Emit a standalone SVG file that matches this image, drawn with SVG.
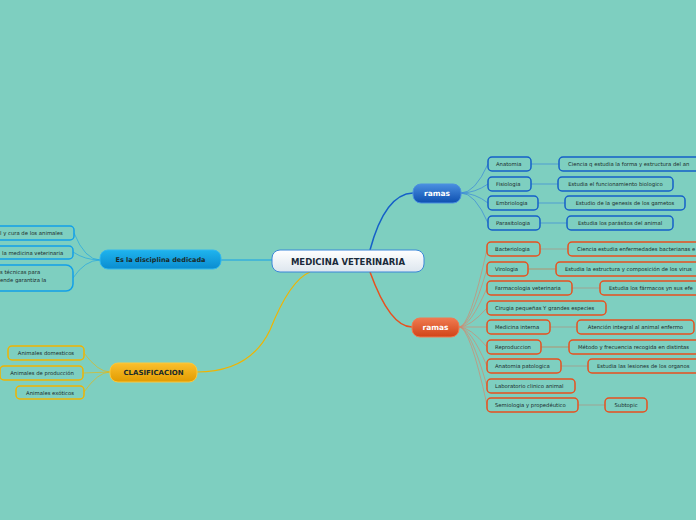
<svg xmlns="http://www.w3.org/2000/svg" width="696" height="520" viewBox="0 0 696 520">
<defs>
<linearGradient id="gb" x1="0" y1="0" x2="0" y2="1"><stop offset="0" stop-color="#4a8fe0"/><stop offset="1" stop-color="#0d4fb0"/></linearGradient>
<linearGradient id="go" x1="0" y1="0" x2="0" y2="1"><stop offset="0" stop-color="#f07a50"/><stop offset="1" stop-color="#d04418"/></linearGradient>
<linearGradient id="gc" x1="0" y1="0" x2="0" y2="1"><stop offset="0" stop-color="#1fb4ee"/><stop offset="1" stop-color="#0a8cd0"/></linearGradient>
<linearGradient id="gy" x1="0" y1="0" x2="0" y2="1"><stop offset="0" stop-color="#fbc02d"/><stop offset="1" stop-color="#e29b00"/></linearGradient>
<linearGradient id="gw" x1="0" y1="0" x2="0" y2="1"><stop offset="0" stop-color="#ffffff"/><stop offset="1" stop-color="#dde6ee"/></linearGradient>
</defs>
<style>
text{font-family:"DejaVu Sans","Liberation Sans",sans-serif;font-size:5.3px;fill:#1a2a2a}
.b rect{fill:#7ecfc0;stroke:#1560c8;stroke-width:1.5}
.o rect{fill:#7ecfc0;stroke:#e8501e;stroke-width:1.5}
.c rect{fill:#7ecfc0;stroke:#12a0e8;stroke-width:1.5}
.y rect{fill:#7ecfc0;stroke:#f0b400;stroke-width:1.5}
.m{font-weight:bold;font-size:7.5px}
#conn path{fill:none}
</style>
<rect width="696" height="520" fill="#7ecfc0"/>
<g id="conn">
<path d="M370 250 Q385 194 413 193" stroke="#1560c8" stroke-width="1.5"/>
<path d="M370 272 Q390 327 412 327" stroke="#e8501e" stroke-width="1.5"/>
<path d="M272 260 L221 260" stroke="#12a0e8" stroke-width="1"/>
<path d="M310 272 Q290 280 270 330 Q250 372 197 372" stroke="#f0b400" stroke-width="1.2"/>
<g stroke="#3a86d8" stroke-width="0.7">
<path d="M461 193 Q475 193 488 164"/><path d="M461 193 Q475 193 488 184"/><path d="M461 193 Q475 193 488 203"/><path d="M461 193 Q475 193 488 223"/>
<path d="M531 164 L559 164"/><path d="M531 184 L558 184"/><path d="M538 203 L565 203"/><path d="M540 223 L567 223"/>
</g>
<g stroke="#d08a70" stroke-width="0.7">
<path d="M459 327 Q470 327 487 249"/><path d="M459 327 Q470 327 487 269"/><path d="M459 327 Q470 327 487 288"/><path d="M459 327 Q470 327 487 308"/><path d="M459 327 L487 327"/><path d="M459 327 Q470 327 487 347"/><path d="M459 327 Q470 327 487 366"/><path d="M459 327 Q470 327 487 386"/><path d="M459 327 Q470 327 487 405"/>
</g>
<g stroke="#9aaa9a" stroke-width="1.2">
<path d="M540 249 L568 249"/><path d="M572 288 L600 288"/><path d="M550 327 L577 327"/><path d="M561 366 L588 366"/><path d="M578 405 L605 405"/>
</g>
<g stroke="#e8501e" stroke-width="0.5"><path d="M528 269 L556 269"/><path d="M541 347 L569 347"/></g>
<g stroke="#12a0e8" stroke-width="0.6">
<path d="M100 260 Q85 260 74 233"/><path d="M100 260 Q85 260 73 252"/><path d="M100 260 Q85 260 73 278"/>
</g>
<g stroke="#f0b400" stroke-width="0.6">
<path d="M110 372 Q98 372 84 353"/><path d="M110 372 L83 373"/><path d="M110 372 Q98 372 84 392"/>
</g>
</g>
<g id="central"><rect x="272" y="250" width="152" height="22" rx="8" fill="url(#gw)" stroke="#3a86d8" stroke-width="1"/><text x="348" y="264.5" text-anchor="middle" class="m" style="fill:#1a2a3a;font-size:8.5px">MEDICINA VETERINARIA</text></g>
<g id="ramas1"><rect x="413" y="184" width="48" height="19" rx="8" fill="url(#gb)" stroke="#4a90e0"/><text x="437" y="196" text-anchor="middle" class="m" style="fill:#fff">ramas</text></g>
<g id="ramas2"><rect x="412" y="318" width="47" height="19" rx="8" fill="url(#go)" stroke="#f07a50"/><text x="435.5" y="330" text-anchor="middle" class="m" style="fill:#fff">ramas</text></g>
<g id="disc"><rect x="100" y="250" width="121" height="19" rx="8" fill="url(#gc)" stroke="#30b8f0"/><text x="160.5" y="262" text-anchor="middle" class="m" style="font-size:6.5px">Es la  disciplina dedicada</text></g>
<g id="clas"><rect x="110" y="363" width="87" height="19" rx="8" fill="url(#gy)" stroke="#fcc83a"/><text x="153.5" y="375" text-anchor="middle" class="m" style="font-size:7px">CLASIFICACION</text></g>
<g class="b">
<g id="b1"><rect x="488" y="157" width="43" height="14" rx="4"/><text x="496" y="166">Anatomia</text></g>
<g id="b2"><rect x="488" y="177" width="43" height="14" rx="4"/><text x="496" y="186">Fisiologia</text></g>
<g id="b3"><rect x="488" y="196" width="50" height="14" rx="4"/><text x="496" y="205">Embriologia</text></g>
<g id="b4"><rect x="488" y="216" width="52" height="14" rx="4"/><text x="496" y="225">Parasitologia</text></g>
<g id="b1l"><rect x="559" y="157" width="150" height="14" rx="4"/><text x="568" y="166">Ciencia q estudia la forma y estructura del an</text></g>
<g id="b2l"><rect x="558" y="177" width="115" height="14" rx="4"/><text x="615.5" y="186" text-anchor="middle">Estudia el funcionamiento biologico</text></g>
<g id="b3l"><rect x="565" y="196" width="120" height="14" rx="4"/><text x="625" y="205" text-anchor="middle">Estudio de la genesis de los gametos</text></g>
<g id="b4l"><rect x="567" y="216" width="106" height="14" rx="4"/><text x="620" y="225" text-anchor="middle">Estudia los parásitos del animal</text></g>
</g>
<g class="o">
<g id="o1"><rect x="487" y="242" width="53" height="14" rx="4"/><text x="495" y="251">Bacteriologia</text></g>
<g id="o2"><rect x="487" y="262" width="41" height="14" rx="4"/><text x="495" y="271">Virologia</text></g>
<g id="o3"><rect x="487" y="281" width="85" height="14" rx="4"/><text x="495" y="290">Farmacologia veterinaria</text></g>
<g id="o4"><rect x="487" y="301" width="119" height="14" rx="4"/><text x="495" y="310">Cirugia pequeñas Y grandes especies</text></g>
<g id="o5"><rect x="487" y="320" width="63" height="14" rx="4"/><text x="495" y="329">Medicina interna</text></g>
<g id="o6"><rect x="487" y="340" width="54" height="14" rx="4"/><text x="495" y="349">Reproduccion</text></g>
<g id="o7"><rect x="487" y="359" width="74" height="14" rx="4"/><text x="495" y="368">Anatomia patologica</text></g>
<g id="o8"><rect x="487" y="379" width="88" height="14" rx="4"/><text x="495" y="388">Laboratorio clinico animal</text></g>
<g id="o9"><rect x="487" y="398" width="91" height="14" rx="4"/><text x="495" y="407">Semiologia y propedéutico</text></g>
<g id="o1l"><rect x="568" y="242" width="140" height="14" rx="4"/><text x="577" y="251">Ciencia estudia enfermedades bacterianas e</text></g>
<g id="o2l"><rect x="556" y="262" width="150" height="14" rx="4"/><text x="565" y="271">Estudia la estructura y composición de los virus</text></g>
<g id="o3l"><rect x="600" y="281" width="110" height="14" rx="4"/><text x="609" y="290">Estudia los fármacos yn sus efe</text></g>
<g id="o5l"><rect x="577" y="320" width="117" height="14" rx="4"/><text x="635.5" y="329" text-anchor="middle">Atención integral al animal enfermo</text></g>
<g id="o6l"><rect x="569" y="340" width="140" height="14" rx="4"/><text x="578" y="349">Método y frecuencia recogida en distintas</text></g>
<g id="o7l"><rect x="588" y="359" width="120" height="14" rx="4"/><text x="597" y="368">Estudia las lesiones de los organos</text></g>
<g id="o9l"><rect x="605" y="398" width="42" height="14" rx="4"/><text x="626" y="407" text-anchor="middle">Subtopic</text></g>
</g>
<g class="c">
<g id="c1"><rect x="-20" y="226" width="94" height="14" rx="4"/><text x="0" y="235">l y cura de los animales</text></g>
<g id="c2"><rect x="-20" y="246" width="93" height="13" rx="4"/><text x="2" y="255">la medicina veterinaria</text></g>
<g id="c3"><rect x="-20" y="265" width="93" height="26" rx="7"/><text x="0" y="274">s técnicas para</text><text x="0" y="282">ende garantiza la</text></g>
</g>
<g class="y">
<g id="y1"><rect x="8" y="346" width="76" height="14" rx="4"/><text x="46" y="355" text-anchor="middle">Animales domesticos</text></g>
<g id="y2"><rect x="0" y="366" width="83" height="14" rx="4"/><text x="42" y="375" text-anchor="middle">Animales de producción</text></g>
<g id="y3"><rect x="16" y="386" width="68" height="13" rx="4"/><text x="50" y="394.5" text-anchor="middle">Animales exóticos</text></g>
</g>
</svg>
